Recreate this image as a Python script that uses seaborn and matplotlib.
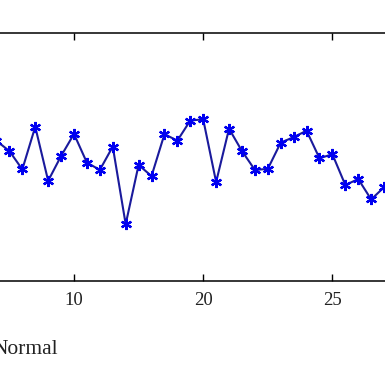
import numpy as np
import pandas as pd
import seaborn as sns
import matplotlib
matplotlib.use("Agg")
import matplotlib.pyplot as plt

sample = [4, 5, 6, 7, 8, 9, 10, 11, 12, 13, 14, 15, 16, 17, 18, 19,
          20, 21, 22, 23, 24, 25, 26, 27, 28, 29, 30, 31, 32, 33, 34]
value = [0.565, 0.524, 0.450, 0.622, 0.404, 0.504, 0.593, 0.477, 0.448,
         0.542, 0.229, 0.468, 0.423, 0.592, 0.566, 0.647, 0.652, 0.399,
         0.614, 0.524, 0.448, 0.452, 0.558, 0.580, 0.606, 0.495, 0.511,
         0.387, 0.411, 0.329, 0.378]
tick_pos = [10, 20, 30]
tick_labels = ["10", "20", "25"]

df = pd.DataFrame({"sample": sample, "value": value})

sns.set_style("white")
plt.rcParams['font.family'] = ['Liberation Serif', 'DejaVu Serif']

fig = plt.figure(figsize=(3.85, 3.85), dpi=100)
ax = fig.add_axes([0.0, 1 - 281 / 385, 1.0, (281 - 33) / 385])

# MATLAB style asterisk markers
sns.lineplot(data=df, x="sample", y="value", ax=ax, color="#1a1a9c",
             linewidth=1.5, marker=(6, 2, 0), markersize=8,
             markeredgewidth=1.6,
             markerfacecolor="#0000f0", markeredgecolor="#0000f0")

ax.set_xlim(10 - 74 / 12.92, 10 + 311 / 12.92)
ax.set_ylim(0, 1)
ax.set_xlabel("")
ax.set_ylabel("")
ax.set_xticks(tick_pos)
ax.set_xticklabels(tick_labels)
ax.set_yticks([])
ax.tick_params(axis="x", direction="in", length=5, width=1, color="black",
               top=True, bottom=True, labelsize=13.5, pad=8, labelcolor="#222222")
for side in ["left", "right"]:
    ax.spines[side].set_visible(False)
for side in ["top", "bottom"]:
    ax.spines[side].set_color("black")
    ax.spines[side].set_linewidth(1.1)

fig.text(-0.02, 1 - 350 / 385, "Normal", fontsize=15.5, va="center",
         color="#222222")

fig.savefig("out.png", dpi=100)
